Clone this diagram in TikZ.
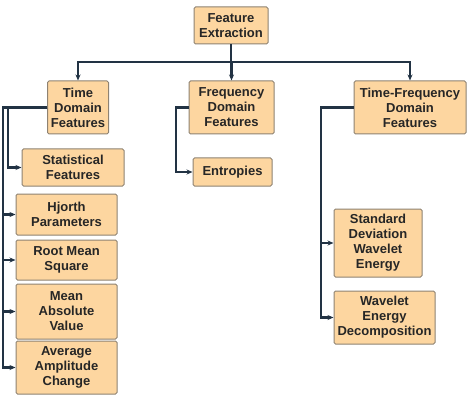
\documentclass[tikz,border=0pt]{standalone}
\usepackage{fontspec}
\setmainfont{Liberation Sans}
\usepackage{xcolor}
\usetikzlibrary{arrows.meta}
\definecolor{boxfill}{HTML}{FDD6A0}
\definecolor{boxline}{HTML}{8E8272}
\definecolor{wire}{HTML}{223344}
\definecolor{ink}{HTML}{262626}

\begin{document}
\begin{tikzpicture}[x=1pt,y=-1pt,
  box/.style={draw=boxline,fill=boxfill,line width=1pt,rounded corners=1.5pt,
    align=center,inner sep=0pt,text=ink,
    font=\fontsize{13}{15}\selectfont\bfseries},
  wire/.style={draw=wire,line width=2.2pt},
  tip/.style={wire,-{Stealth[length=6pt,width=5pt]}}]
  \useasboundingbox (0,0) rectangle (474,401);
  % ---------- top level ----------
  \node[box,minimum width=74pt,minimum height=37pt] (fe) at (231,25.5) {Feature\\Extraction};
  \node[box,minimum width=61pt,minimum height=53pt] (td) at (78,107.5) {Time\\Domain\\Features};
  \node[box,minimum width=85pt,minimum height=53pt] (fd) at (231.5,107.5) {Frequency\\Domain\\Features};
  \node[box,minimum width=112pt,minimum height=53pt] (tf) at (410,107.5) {Time-Frequency\\Domain\\Features};
  \coordinate (j) at (231,62);
  \draw[wire] (fe.south) -- (j);
  \foreach \n in {td,fd,tf} \draw[tip] (j) -| (\n.north);
  % ---------- time domain ----------
  \node[box,minimum width=102pt,minimum height=37pt] (stat) at (73,167.5) {Statistical\\Features};
  \node[box,minimum width=101pt,minimum height=41pt] (hj) at (66.5,214.5) {Hjorth\\Parameters};
  \node[box,minimum width=101pt,minimum height=40pt] (rms) at (66.5,260) {Root Mean\\Square};
  \node[box,minimum width=101pt,minimum height=55pt] (mav) at (66.5,311.5) {Mean\\Absolute\\Value};
  \node[box,minimum width=101pt,minimum height=53pt] (aac) at (66.5,367.5) {Average\\Amplitude\\Change};
  \coordinate (tdin) at (8,107.5);
  \coordinate (tdout) at (3,107.5);
  \draw[tip] (td.west) -- (tdin) |- (stat.west);
  \foreach \n in {hj,rms,mav,aac} \draw[tip] (td.west) -- (tdout) |- (\n.west);
  % ---------- frequency domain ----------
  \node[box,minimum width=79pt,minimum height=28pt] (ent) at (232.5,172) {Entropies};
  \coordinate (fdl) at (176,107.5);
  \draw[tip] (fd.west) -- (fdl) |- (ent.west);
  % ---------- time-frequency domain ----------
  \node[box,minimum width=88pt,minimum height=68pt] (sdwe) at (378,243) {Standard\\Deviation\\Wavelet\\Energy};
  \node[box,minimum width=101pt,minimum height=53pt] (wed) at (384.5,317.5) {Wavelet\\Energy\\Decomposition};
  \coordinate (tfl) at (321,107.5);
  \foreach \n in {sdwe,wed} \draw[tip] (tf.west) -- (tfl) |- (\n.west);
\end{tikzpicture}
\end{document}
